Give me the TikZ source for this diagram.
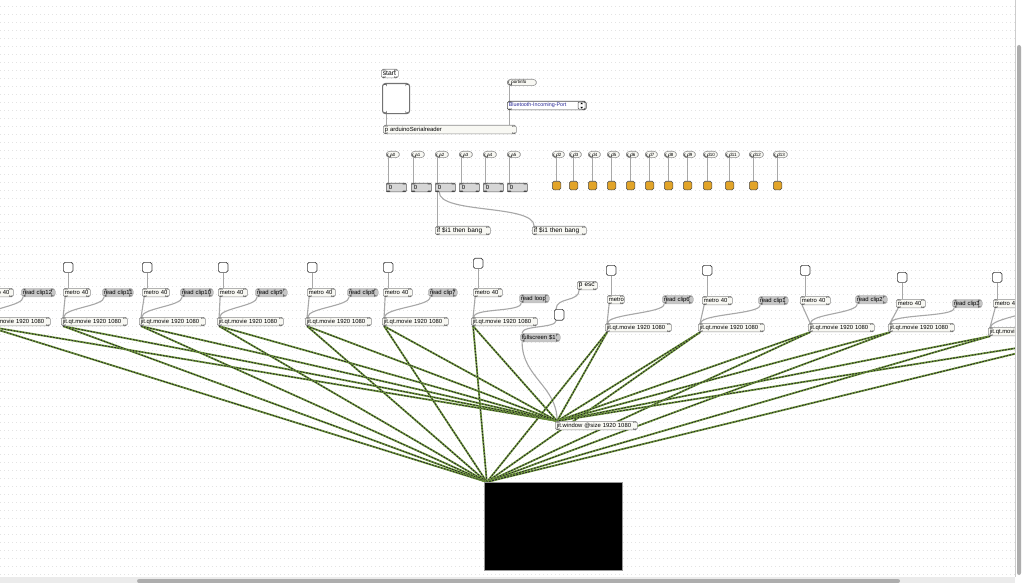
\documentclass[tikz,border=0pt]{standalone}
\usepackage{fontspec}
\setmainfont{Liberation Sans}
\pgfdeclarelayer{grid}
\pgfdeclarelayer{cords}
\pgfsetlayers{grid,cords,main}

\definecolor{objfill}{RGB}{248,248,243}
\definecolor{msgfill}{RGB}{198,198,198}
\definecolor{cordgray}{RGB}{168,168,168}
\definecolor{jitgreen}{RGB}{112,152,62}
\definecolor{ledorange}{RGB}{226,164,40}
\definecolor{menublue}{RGB}{40,40,150}

\tikzset{
  wd/.style={text width={#1*0.025cm-2.2pt}},
  tabs/.style={path picture={
      \fill[black!75] (path picture bounding box.north west) rectangle ++(#1,1.2);
      \fill[black!75] (path picture bounding box.south west) rectangle ++(#1,-1.2);
      \fill[black!75] (path picture bounding box.north east) rectangle ++(-#1,1.2);
      \fill[black!75] (path picture bounding box.south east) rectangle ++(-#1,-1.2);}},
  obj/.style={draw=black!45, fill=objfill, rounded corners=1.2pt, anchor=north west,
    inner xsep=1.1pt, inner ysep=0pt, minimum height=0.215cm, align=left, tabs=4,
    font=\fontsize{4.2}{5}\selectfont,
    execute at begin node={\hbox\bgroup}, execute at end node={\egroup}},
  msg/.style={obj, fill=msgfill, draw=black!25, rounded corners=2.4pt},
  recv/.style={obj, rounded corners=2.4pt, minimum height=0.16cm, inner xsep=0.8pt,
    font=\fontsize{3.2}{4}\selectfont,
    path picture={
      \fill[black!75] ([xshift=1pt]path picture bounding box.south west) rectangle ++(3,-1);}},
  numbox/.style={obj, fill=black!16, draw=black!65, rounded corners=0.6pt},
  bigbox/.style={draw=black!55, fill=white, line width=0.8pt, rounded corners=2pt,
    anchor=north west, minimum width=0.675cm, minimum height=0.75cm, inner sep=0pt, tabs=4},
  tog/.style={draw=black!75, fill=white, line width=0.5pt, rounded corners=1.2pt,
    anchor=north west, minimum width=0.24cm, minimum height=0.25cm, inner sep=0pt},
  led/.style={draw=black!70, fill=ledorange, rounded corners=1.2pt, anchor=north west,
    minimum size=0.215cm, inner sep=0pt},
  cord/.style={draw=cordgray, line width=0.8pt},
  jitcord/.style={draw=jitgreen, line width=1.3pt,
    postaction={draw=black!85, line width=0.65pt, dash pattern=on 1.1pt off 1.1pt}},
}

\begin{document}
\begin{tikzpicture}[x=0.025cm, y=-0.025cm]
\useasboundingbox (0,0) rectangle (1024,583);

% patcher grid
\begin{pgfonlayer}{grid}
  \foreach \r in {6,14,...,576}
    \draw[black!11, line width=0.4pt, dash pattern=on 0.4pt off 2.44pt] (0,\r) -- (1015,\r);
\end{pgfonlayer}

\begin{scope}
\clip (0,0) rectangle (1015,577);

% serial reader
\node[obj, fill=white, wd=17, font=\fontsize{4.8}{5}\selectfont] (start) at (381,69) {start};
\node[bigbox] (big) at (382,83) {};
\node[obj, wd=133] (ard) at (383,125) {p arduinoSerialreader};
\node[recv, wd=30] (portinfo) at (507,79) {r portinfo};
\node[obj, fill=white, draw=black!70, text=menublue, wd=79,
      font=\fontsize{3.8}{5}\selectfont] (menu) at (507,101) {Bluetooth-Incoming-Port};
\draw[black!70, fill=white, rounded corners=0.6pt]
  ([xshift=-6pt,yshift=-0.8pt]menu.north east) rectangle ([xshift=-1pt,yshift=0.8pt]menu.south east);
\fill ([xshift=-3.5pt,yshift=2.1pt]menu.east) -- ++(-1.3,1.6) -- ++(2.6,0) -- cycle;
\fill ([xshift=-3.5pt,yshift=-2.1pt]menu.east) -- ++(-1.3,-1.6) -- ++(2.6,0) -- cycle;

% analog inputs
\foreach \i/\x in {0/386,1/411,2/435,3/459,4/483,5/507} {
  \node[recv, wd=14] (ra\i) at (\x,151) {r a\i};
  \node[numbox, wd=20] (num\i) at (\x,183) {\,0};
}
\node[obj, wd=55, font=\fontsize{4.6}{5}\selectfont] (if1) at (435,226) {if \$i1 then bang};
\node[obj, wd=54, font=\fontsize{4.6}{5}\selectfont] (if2) at (532,226) {if \$i1 then bang};

% digital inputs
\foreach \i/\x/\w in {2/552/13,3/569/13,4/588/13,5/607/13,6/626/13,7/645/13,
                      8/664/13,9/683/13,10/703/15,11/725/15,12/749/15,13/773/15} {
  \node[recv, wd=\w] (rd\i) at (\x,151) {r d\i};
  \node[led] (led\i) at (\x,181) {};
}

% movie players
\foreach \n/\x/\y in {1/63/262,2/142/262,3/218/262,4/307/262,5/383/262,6/473/258,
                      7/606/265,8/702/265,9/800/265,10/897/272,11/992/272}
  \node[tog] (tog\n) at (\x,\y) {};
\foreach \n/\x/\y/\w/\t in {0/-16/288/29/metro 40,1/63/288/27/metro 40,2/142/288/27/metro 40,
    3/218/288/29/metro 40,4/307/288/28/metro 40,5/383/288/29/metro 40,6/473/288/29/metro 40,
    7/607/295/17/metro,8/702/296/30/metro 40,9/800/296/30/metro 40,
    10/896/299/29/metro 40,11/993/299/30/metro 40}
  \node[obj, wd=\w] (metro\n) at (\x,\y) {\t};
\foreach \n/\x/\y/\w/\t in {0/21/288/34/read clip12,1/102/288/31/read clip11,
    2/180/288/33/read clip10,3/255/288/32/read clip9,4/347/288/31/read clip8,
    5/428/288/29/read clip7,6/519/294/30/read loop,7/662/295/31/read clip6,
    8/758/296/30/read clip1,9/855/295/32/read clip2,10/952/299/30/read clip3}
  \node[msg, wd=\w] (read\n) at (\x,\y) {\t};
\coordinate (read11) at (1040,304);
\foreach \n/\x/\y in {0/-16/317,1/61/317,2/139/317,3/217/317,4/305/317,5/382/317,
                      6/471/317,7/605/323,8/698/323,9/808/323,10/888/323,11/988/327}
  \node[obj, wd=66] (movie\n) at (\x,\y) {jit.qt.movie 1920 1080};
\coordinate (movie12) at (1080,338);

% window
\node[obj, wd=20, font=\fontsize{4.6}{5}\selectfont] (pesc) at (577,281) {p esc};
\node[tog, minimum height=0.27cm] (btn) at (554,309) {};
\node[msg, wd=40] (fs) at (520,333) {fullscreen \$1};
\node[obj, wd=82] (win) at (555,421) {jit.window @size 1920 1080};
\node[draw=black!40, fill=black, anchor=north west, minimum width=3.45cm,
      minimum height=2.2cm, inner sep=0pt] (pwin) at (484,482) {};
\end{scope}

\begin{pgfonlayer}{cords}
  \clip (0,0) rectangle (1015,577);
  \draw[cord] ([xshift=3pt]big.south west) -- ([xshift=3pt]big.south west |- ard.north);
  \draw[cord] ([xshift=1.5pt]portinfo.south west) -- ([xshift=1.5pt]menu.north west);
  \draw[cord] ([xshift=1.5pt]menu.south west) -- ([xshift=1.5pt]menu.south west |- ard.north);
  \foreach \i in {0,...,5}
    \draw[cord] ([xshift=2pt]ra\i.south west) -- ([xshift=2pt]num\i.north west);
  \draw[cord] ([xshift=1.5pt]num2.south west) -- ([xshift=1.5pt]if1.north west);
  \draw[cord] ([xshift=3pt]num2.south west) .. controls +(0,22) and +(0,-22) .. ([xshift=1.5pt]if2.north west);
  \foreach \i in {2,...,13}
    \draw[cord] (led\i.north |- rd\i.south) -- (led\i.north);
  \foreach \n in {1,...,11}
    \draw[cord] (tog\n.south) -- (tog\n.south |- metro\n.north);
  \foreach \n in {0,...,11}
    \draw[cord] ([xshift=1.5pt]metro\n.south west) -- ([xshift=1.5pt]movie\n.north west);
  \foreach \n in {0,...,11}
    \draw[cord] ([xshift=1.5pt]read\n.south west) .. controls +(0,9) and +(0,-9) .. ([xshift=2pt]movie\n.north west);
  \draw[cord] ([xshift=1.5pt]pesc.south west) .. controls +(0,12) and +(0,-12) .. ([xshift=1.5pt]btn.north west);
  \draw[cord] ([xshift=1.5pt]btn.south west) .. controls +(0,8) and +(0,-8) .. ([xshift=1.5pt]fs.north west);
  \draw[cord] ([xshift=1.5pt]fs.south west) .. controls +(0,35) and +(0,-35) .. ([xshift=1.5pt]win.north west);
  \foreach \n in {0,...,11} {
    \draw[jitcord] ([xshift=1.5pt]movie\n.south west) -- ([xshift=1.5pt]win.north west);
    \draw[jitcord] ([xshift=1.5pt]movie\n.south west) -- ([xshift=2pt]pwin.north west);
  }
  \draw[jitcord] (movie12) -- ([xshift=1.5pt]win.north west);
  \draw[jitcord] (movie12) -- ([xshift=2pt]pwin.north west);
\end{pgfonlayer}

% scroll bars
\fill[white] (1015,0) rectangle (1024,583);
\draw[black!20] (1015,0) -- (1015,577);
\fill[black!32, rounded corners=1.5pt] (1017,45) rectangle (1021,575);
\fill[black!8] (0,577) rectangle (1015,583);
\fill[black!32, rounded corners=1.5pt] (137,579) rectangle (900,583);
\end{tikzpicture}
\end{document}
